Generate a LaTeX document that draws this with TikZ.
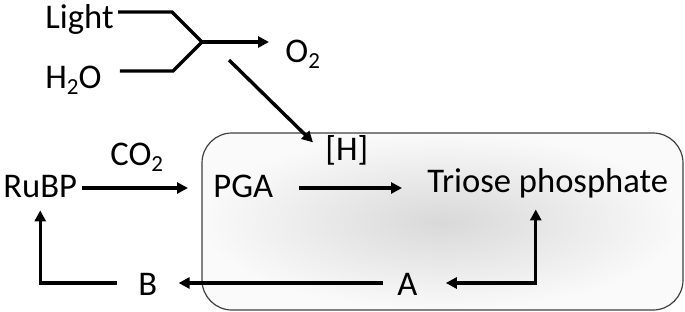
\documentclass[tikz,border=0pt]{standalone}
\usepackage{fontspec}
\setmainfont{Carlito}
\usetikzlibrary{arrows.meta, positioning, calc}

\newcommand{\chemsub}[1]{\raisebox{-0.4ex}{\fontsize{11.5}{11.5}\selectfont #1}}

\begin{document}
\begin{tikzpicture}[x=0.5pt, y=-0.5pt,
        every node/.style={font=\fontsize{17.3}{20}\selectfont, inner sep=0pt, anchor=base west, text height=11pt, text depth=2pt},
        plain/.style={line width=1.7pt},
        line/.style={plain, -{Triangle[length=5.5pt, width=5.5pt]}},
        both/.style={plain, {Triangle[length=5.5pt, width=5.5pt]}-{Triangle[length=5.5pt, width=5.5pt]}},
        stroma/.style={draw=black!75, line width=0.6pt, rounded corners=15pt, inner color=black!15, outer color=black!2}
    ]
        \useasboundingbox (0,0) rectangle (685,311);

        % shaded region
        \draw[stroma] (202,133) rectangle (683,310);

        % light reactions
        \node (light)  at (45,28)  {Light};
        \node (water)  at (45,88)  {H\chemsub{2}O};
        \node (oxygen) at (285,62) {O\chemsub{2}};
        \coordinate (join)   at (202,42);
        \coordinate (hstart) at (229,60);

        % cycle
        \node (rubp)   at (3,197)   {RuBP};
        \node (co2)    at (110,165) {CO\chemsub{2}};
        \node (pga)    at (213,197) {PGA};
        \node (hydro)  at (325,160) {[H]};
        \node (triose) at (427,192) {Triose phosphate};
        \node (a)      at (397,295) {A};
        \node (b)      at (138,295) {B};

        \draw[plain] ([xshift=2pt]light.east |- 0,12) -- ([xshift=-15pt]join |- 0,12) -- (join);
        \draw[plain] ([xshift=9pt]water.east |- 0,71) -- ([xshift=-14.5pt]join |- 0,71) -- (join);
        \draw[line]  (join) -- ([xshift=-8pt]oxygen.west |- join);
        \draw[line]  (hstart) -- ([shift={(-12,-22)}]hydro.south west);

        \draw[line, shorten <=2.5pt, shorten >=12.5pt] (rubp.east) -- (pga.west -| pga.west);
        \draw[line, shorten <=12.5pt, shorten >=12.5pt] (pga.east) -- (pga.east -| triose.west);
        \draw[both] ([shift={(-12,13)}]triose.south) |- ([shift={(28,-3)}]a.east);
        \draw[line, shorten <=7pt, shorten >=10.5pt] ([yshift=1.5pt]a.west) -- ([yshift=1.5pt]b.east);
        \draw[line, shorten >=4.5pt] ([shift={(-21,-3)}]b.west) -| (rubp.south);
    \end{tikzpicture}
\end{document}
